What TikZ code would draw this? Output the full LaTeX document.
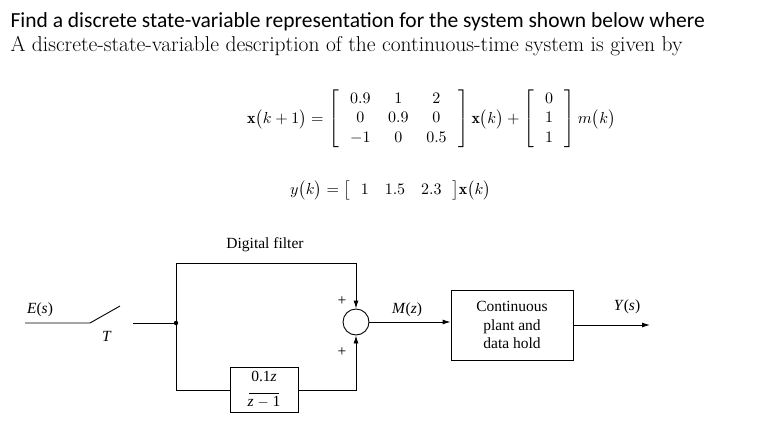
\documentclass[tikz,border=0pt]{standalone}
\usepackage{amsmath}
\usepackage{graphicx}
\usepackage{fontspec}
\newfontfamily\carlitofont{Carlito}
\newfontfamily\timesfont{Liberation Serif}
\usetikzlibrary{arrows.meta}
\begin{document}
\begin{tikzpicture}[x=1pt,y=-1pt,
  blk/.style={draw,line width=0.9pt,minimum width=#1},
  ln/.style={line width=0.9pt},
  arr/.style={ln,-{Latex[length=8pt,width=5pt]}},
  lbl/.style={font=\timesfont\fontsize{15.5}{18.5}\selectfont}]
\useasboundingbox (0,0) rectangle (775,434);
\node[anchor=west,font=\carlitofont\fontsize{21.5}{22}\selectfont] (l1) at (7,22) {Find a discrete state-variable representation for the system shown below where};
\node[anchor=west,font=\fontsize{21.5}{22}\selectfont] (l2) at (7,46) {A discrete-state-variable description of the continuous-time system is given by};
\node[anchor=west,inner sep=0] (e1) at (247,119) {\scalebox{1.6}{\setlength\arraycolsep{5.5pt}$\mathbf{x}\bigl(k+1\bigr)=\left[\,\begin{array}{ccc}0.9&1&2\\0&0.9&0\\-1&0&0.5\end{array}\,\right]\mathbf{x}\bigl(k\bigr)+\left[\,\begin{array}{c}0\\1\\1\end{array}\,\right]m\bigl(k\bigr)$}};
\node[anchor=west,inner sep=0] (e2) at (290,190) {\scalebox{1.6}{$y\bigl(k\bigr)=\bigl[\ \ 1\ \ \ 1.5\ \ \ 2.3\ \ \bigr]\mathbf{x}\bigl(k\bigr)$}};
\node[lbl] (df) at (265,245) {Digital filter};
\node[lbl] (es) at (40,310) {\textit{E}(\textit{s})};
\node[lbl] (tt) at (107,336) {\textit{T}};
\coordinate (a) at (25,323);
\coordinate (s1) at (90,323);
\coordinate (s2) at (120,306);
\coordinate (b) at (133,323);
\coordinate (d) at (176,323);
\node[draw,circle,minimum size=26pt,inner sep=0,ln] (c) at (356,322) {};
\node[blk=68pt,minimum height=40pt,lbl,inner sep=1pt] (g) at (264,390) {\begin{tabular}{@{}c@{}}0.1\textit{z}\\[-6pt]\rule{30pt}{0.6pt}\\[-6pt]\textit{z} $-$ 1\end{tabular}};
\node[blk=122pt,minimum height=70pt,lbl,align=center] (p) at (512,325) {Continuous\\plant and\\data hold};
\coordinate (o) at (650,325);
\node[lbl] (mz) at (407,310) {\textit{M}(\textit{z})};
\node[lbl] (ys) at (627,307) {\textit{Y}(\textit{s})};
\node[lbl] (p1) at (342,301) {+};
\node[lbl] (p2) at (342,352) {+};
\draw[ln] (a)--(s1)--(s2);
\draw[ln] (b)--(d);
\fill (d) circle (2.2pt);
\draw[arr] (d)|-(176,263)-|(c.north);
\draw[ln] (d)|-(g.west);
\draw[arr] (g.east)-|(c.south);
\draw[arr] (c.east)--(p.west|-c.east);
\draw[arr] (p.east)--(o);
\end{tikzpicture}
\end{document}
